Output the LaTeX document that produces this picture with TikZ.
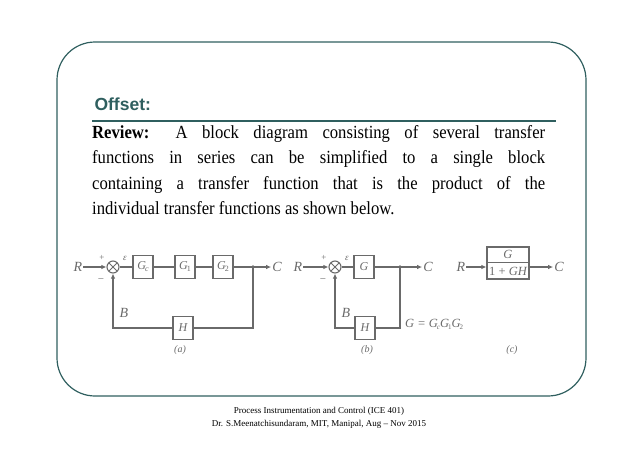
\documentclass[tikz,border=0pt]{standalone}
\usepackage{fontspec}
\setmainfont{Liberation Serif}
\newfontfamily\sansb{Liberation Sans}
\newfontfamily\condserif[FakeStretch=0.9]{Liberation Serif}
\usetikzlibrary{arrows.meta}
\definecolor{teal1}{HTML}{2F5F5F}
\definecolor{dg}{HTML}{6A6A6A}
\begin{document}
\begin{tikzpicture}[x=1pt,y=-1pt,
 blk/.style={draw=dg,line width=1.1pt,minimum width=20pt,minimum height=23pt,inner sep=0pt,font=\itshape\fontsize{12}{12}\selectfont,text=dg},
 sig/.style={draw=dg,line width=1.3pt},
 arr/.style={sig,-{Latex[length=5pt,width=4.5pt]}},
 lab/.style={font=\itshape\fontsize{14}{14}\selectfont,text=dg,inner sep=1pt},
 sm/.style={font=\fontsize{9}{9}\selectfont,text=dg,inner sep=0pt},
 sum/.style={draw=dg,line width=1.1pt,circle,minimum size=12pt,inner sep=0pt,path picture={\draw[dg,line width=1pt] (path picture bounding box.north west)--(path picture bounding box.south east) (path picture bounding box.north east)--(path picture bounding box.south west);}}]
\useasboundingbox (0,0) rectangle (638,451);
\draw[teal1,line width=1.2pt,rounded corners=38pt] (57,42) rectangle (586,396);
\node[anchor=west,font=\sansb\bfseries\fontsize{17.5}{17.5}\selectfont,text=teal1] (title) at (91,104) {Offset:};
\draw[teal1,line width=1.8pt] (92,121) -- (556,121);
\node[anchor=north west,text width=453pt,align=justify,font=\condserif\fontsize{18.5}{25.5}\selectfont,inner sep=0pt] (para) at (92,125) {\hyphenpenalty=10000 \textbf{Review:} A block diagram consisting of several transfer\linebreak functions in series can be simplified to a single block\linebreak containing a transfer function that is the product of the\linebreak individual transfer functions as shown below.};
% (a)
\node[lab] (Ra) at (78,267) {R};
\node[sum] (Sa) at (113,267) {};
\node[blk] (Gc) at (143,267) {G\kern-1pt\raisebox{-2pt}{\fontsize{8}{8}\selectfont c}};
\node[blk] (G1) at (185,267) {G\kern-1pt\raisebox{-2pt}{\upshape\fontsize{8}{8}\selectfont 1}};
\node[blk] (G2) at (223,267) {G\kern-1pt\raisebox{-2pt}{\upshape\fontsize{8}{8}\selectfont 2}};
\coordinate (Ja) at (253,267);
\node[lab] (Ca) at (277,267) {C};
\node[blk] (Ha) at (183,328) {H};
\node[sm] at (102,258) {+};
\node[sm] at (125,258) {\itshape ε};
\node[sm,font=\fontsize{11}{11}\selectfont] at (101,281) {−};
\node[lab] at (124,313) {B};
\draw[arr] (Ra) -- (Sa);
\draw[sig] (Sa) -- (Gc) (Gc) -- (G1) (G1) -- (G2) (G2) -- (Ja);
\draw[arr] (Ja) -- (Ca);
\fill[dg] (Ja) circle (1.8pt);
\draw[sig] (Ja) |- (Ha);
\draw[arr] (Ha) -| (Sa);
\node[lab,font=\itshape\fontsize{10}{10}\selectfont] (la) at (180,350) {(a)};
% (b)
\node[lab] (Rb) at (298,267) {R};
\node[sum] (Sb) at (335,267) {};
\node[blk] (Gb) at (364,267) {G};
\coordinate (Jb) at (400,267);
\node[lab] (Cb) at (428,267) {C};
\node[blk] (Hb) at (365,328) {H};
\node[sm] at (324,258) {+};
\node[sm] at (347,258) {\itshape ε};
\node[sm,font=\fontsize{11}{11}\selectfont] at (323,281) {−};
\node[lab] at (346,313) {B};
\draw[arr] (Rb) -- (Sb);
\draw[sig] (Sb) -- (Gb) (Gb) -- (Jb);
\draw[arr] (Jb) -- (Cb);
\fill[dg] (Jb) circle (1.8pt);
\draw[sig] (Jb) |- (Hb);
\draw[arr] (Hb) -| (Sb);
\node[lab,anchor=west,font=\itshape\fontsize{12.5}{12.5}\selectfont] (eq) at (404,324) {G = G\kern-1pt\raisebox{-2pt}{\fontsize{7}{7}\selectfont c}G\kern-1pt\raisebox{-2pt}{\upshape\fontsize{7}{7}\selectfont 1}G\kern-1pt\raisebox{-2pt}{\upshape\fontsize{7}{7}\selectfont 2}};
\node[lab,font=\itshape\fontsize{10}{10}\selectfont] (lb) at (367,350) {(b)};
% (c)
\node[lab] (Rc) at (461,267) {R};
\node[draw=dg,line width=1.1pt,minimum width=42pt,minimum height=32pt,inner sep=0pt] (Bc) at (508,263) {};
\draw[dg,line width=1pt] (Bc.west |- 0,262) -- (Bc.east |- 0,262);
\node[lab,font=\itshape\fontsize{12.5}{12.5}\selectfont] at (508,254) {G};
\node[lab,font=\itshape\fontsize{12.5}{12.5}\selectfont] at (508,271) {\upshape 1 + \itshape GH};
\node[lab] (Cc) at (559,267) {C};
\draw[arr] (Rc) -- (Rc -| Bc.west);
\draw[arr] (Cc -| Bc.east) -- (Cc);
\node[lab,font=\itshape\fontsize{10}{10}\selectfont] (lc) at (512,350) {(c)};
% footer
\node[font=\fontsize{9}{13}\selectfont,align=center] (foot) at (319,418) {Process Instrumentation and Control (ICE 401)\\Dr. S.Meenatchisundaram, MIT, Manipal, Aug -- Nov 2015};
\end{tikzpicture}
\end{document}
